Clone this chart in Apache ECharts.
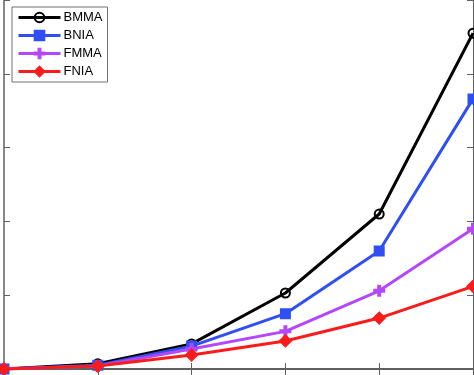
<!DOCTYPE html>
<html><head><meta charset="utf-8">
<script src="https://cdn.jsdelivr.net/npm/echarts@6/dist/echarts.min.js"></script>
<style>html,body{margin:0;padding:0;background:#fff}#c{width:474px;height:375px}</style>
</head><body><div id="c"></div>
<script>
const xValues = [1, 2, 3, 4, 5, 6];
const bmma = [0, 0.07, 0.34, 1.03, 2.10, 4.55];
const bnia = [0, 0.05, 0.31, 0.75, 1.60, 3.66];
const fmma = [0, 0.04, 0.27, 0.51, 1.06, 1.90];
const fnia = [0, 0.04, 0.19, 0.38, 0.69, 1.12];
const seriesNames = ['BMMA', 'BNIA', 'FMMA', 'FNIA'];
const seriesColors = ['#000000', '#2f4ff5', '#b348fb', '#fa1b1b'];

const plusPath = 'path://M4,0 L6,0 L6,4 L10,4 L10,6 L6,6 L6,10 L4,10 L4,6 L0,6 L0,4 L4,4 Z';
const pair = a => a.map((v, i) => [xValues[i], v]);
const chart = echarts.init(document.getElementById('c'));
const axisGray = '#606060';
const mk = (name, data, color, symbol, size, fill) => ({
  name, type: 'line', data: pair(data), xAxisIndex: 0, yAxisIndex: 0,
  symbol, symbolSize: size, showSymbol: true,
  lineStyle: { color, width: 3 },
  itemStyle: { color: fill, borderColor: color, borderWidth: 2 },
  emphasis: { disabled: true }, animation: false
});
chart.setOption({
  animation: false,
  grid: { left: 4, right: 1, top: -1, bottom: 6 },
  legend: {
    orient: 'vertical', left: 12, top: 7,
    backgroundColor: '#fff', borderColor: '#707070', borderWidth: 1,
    padding: [4, 5, 4, 5], itemGap: 5, itemWidth: 42, itemHeight: 12,
    lineStyle: { width: 3 },
    textStyle: { fontFamily: 'Liberation Sans, Arial', fontSize: 13, color: '#000', padding: [0, 0, 0, -2] },
    data: seriesNames
  },
  xAxis: [
    { type: 'value', min: 1, max: 6, interval: 1, position: 'bottom',
      axisLine: { show: true, onZero: false, lineStyle: { color: axisGray, width: 2 } },
      axisTick: { inside: true, length: 6, lineStyle: { color: axisGray } },
      axisLabel: { show: false }, splitLine: { show: false } },
    { type: 'value', min: 1, max: 6, interval: 1, position: 'top',
      axisLine: { show: true, lineStyle: { color: axisGray } },
      axisTick: { inside: true, length: 6, lineStyle: { color: axisGray } },
      axisLabel: { show: false }, splitLine: { show: false } }
  ],
  yAxis: [
    { type: 'value', min: 0, max: 5, interval: 1, position: 'left',
      axisLine: { show: true, onZero: false, lineStyle: { color: axisGray, width: 1.5 } },
      axisTick: { inside: true, length: 6, lineStyle: { color: axisGray } },
      axisLabel: { show: false }, splitLine: { show: false } },
    { type: 'value', min: 0, max: 5, interval: 1, position: 'right',
      axisLine: { show: true, lineStyle: { color: axisGray } },
      axisTick: { inside: true, length: 6, lineStyle: { color: axisGray } },
      axisLabel: { show: false }, splitLine: { show: false } }
  ],
  series: [
    mk(seriesNames[0], bmma, seriesColors[0], 'circle', 9, 'rgba(255,255,255,0)'),
    mk(seriesNames[1], bnia, seriesColors[1], 'rect', 9, seriesColors[1]),
    mk(seriesNames[2], fmma, seriesColors[2], plusPath, 10, seriesColors[2]),
    mk(seriesNames[3], fnia, seriesColors[3], 'diamond', 11, seriesColors[3])
  ]
});
</script></body></html>
